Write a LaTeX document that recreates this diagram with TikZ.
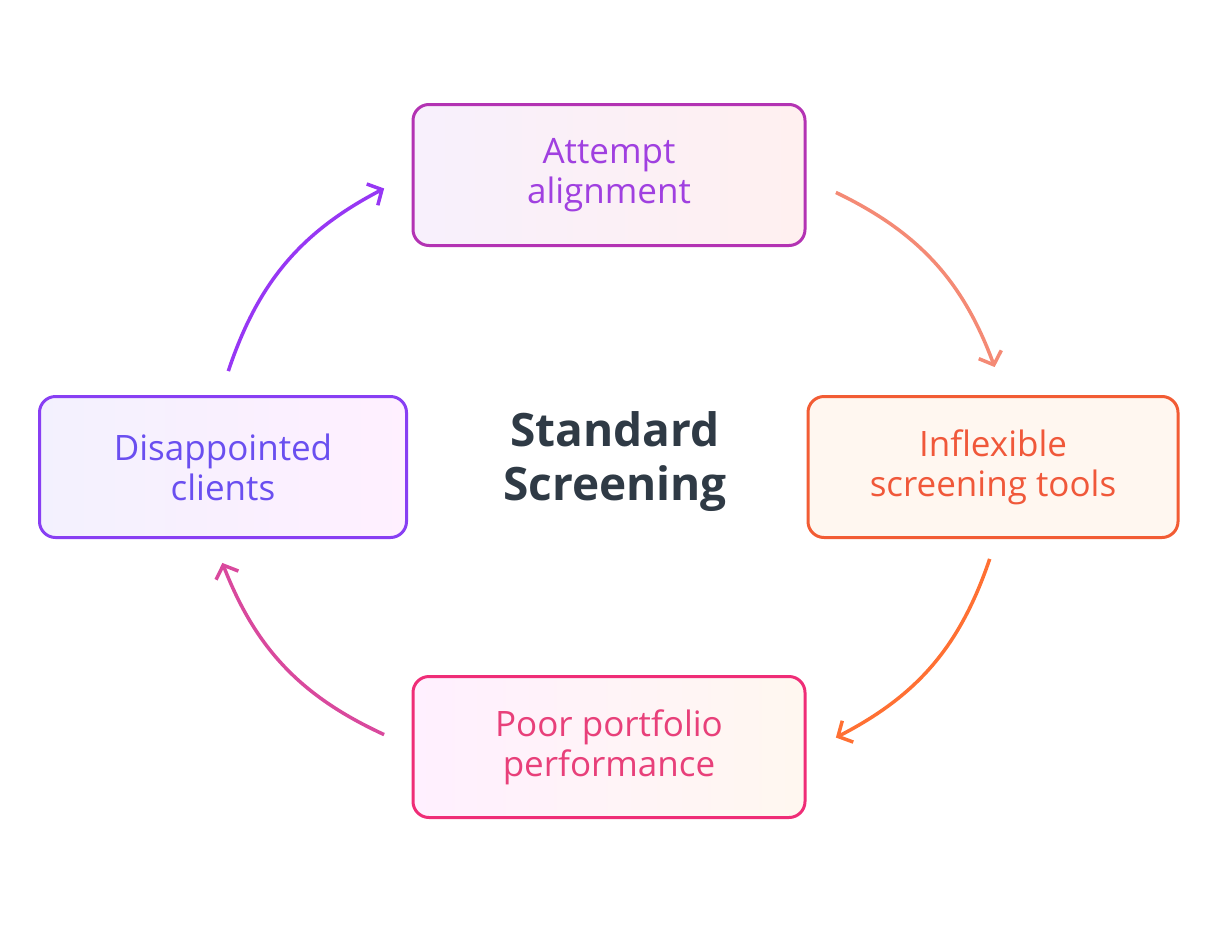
\documentclass[tikz,border=0pt]{standalone}
\usepackage{fontspec}
\setmainfont{Open Sans}
\usetikzlibrary{arrows.meta}
\definecolor{cTop}{HTML}{A040E0}
\definecolor{cRight}{HTML}{F0583A}
\definecolor{cBottom}{HTML}{E8407A}
\definecolor{cLeft}{HTML}{6A4FF0}
\definecolor{cMid}{HTML}{2F3A45}
\tikzset{
   every path/.style={>={Straight Barb[length=11pt,width=24pt]}},
   step/.style={rectangle,rounded corners=16pt,minimum width=#1,minimum height=141pt,
      line width=3pt,align=center,font=\fontsize{35}{40}\selectfont},
   flow/.style={->,line width=3.5pt,shorten >=1pt,shorten <=1pt},
}
\begin{document}
\begin{tikzpicture}[x=1pt,y=-1pt]
      \useasboundingbox (0,0) rectangle (1220,929);
      \node[step=392pt,draw=cTop!80!red,left color=cTop!8,right color=red!6,text=cTop] (att) at (609,175) {Attempt\\alignment};
      \node[step=370pt,draw=cRight!90!orange,fill=orange!6,text=cRight] (inf) at (993,467) {Inflexible\\screening tools};
      \node[step=392pt,draw=magenta!70!orange,left color=magenta!6,right color=orange!6,text=cBottom] (poor) at (609,747) {Poor portfolio\\performance};
      \node[step=367pt,draw=cLeft!80!magenta,left color=cLeft!8,right color=magenta!6,text=cLeft] (dis) at (223,467) {Disappointed\\clients};
      \node[text=cMid,align=center,font=\fontsize{46}{54}\selectfont\bfseries] (std) at (615,462) {Standard\\Screening};
      \coordinate (a1) at (228,372); \coordinate (a2) at (385,188);
      \coordinate (b1) at (835,192); \coordinate (b2) at (995,368);
      \coordinate (c1) at (990,558); \coordinate (c2) at (835,738);
      \coordinate (d1) at (385,735); \coordinate (d2) at (222,562);
      \draw[flow,color=cLeft!70!magenta] (a1) to[bend left=22] (a2);
      \draw[flow,color=cRight!70!white] (b1) to[bend left=22] (b2);
      \draw[flow,color=orange!60!red!80!white] (c1) to[bend left=22] (c2);
      \draw[flow,color=magenta!70!violet!80!white] (d1) to[bend left=22] (d2);
    \end{tikzpicture}
\end{document}
